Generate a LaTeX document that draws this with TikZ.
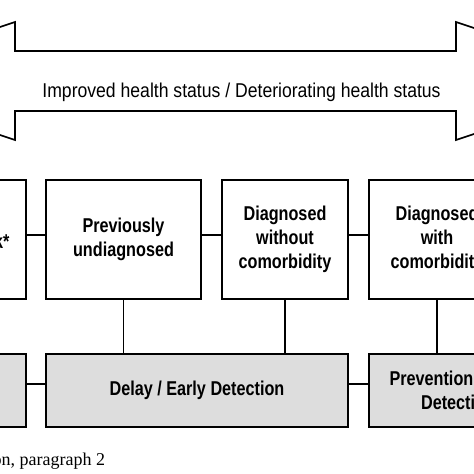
\documentclass[tikz,border=0pt]{standalone}
\usepackage{fontspec}
\setmainfont{Liberation Serif}
\newfontfamily\boxfont[FakeStretch=0.81]{Liberation Sans}
\newfontfamily\arrowfont[FakeStretch=0.88]{Liberation Sans}
\definecolor{boxgray}{RGB}{221,221,221}
\begin{document}
\begin{tikzpicture}[x=1pt, y=1pt, line width=1.7pt,
    stage/.style={draw, rectangle, align=center, inner sep=0pt,
      font=\boxfont\bfseries\fontsize{20}{24}\selectfont, minimum height=119pt},
    action/.style={stage, fill=boxgray, minimum height=73pt}]
  \useasboundingbox (0,0) rectangle (474,474);
  \clip (0,0) rectangle (474,474);

  % double arrow across the top
  \draw (-162,393) -- (15,452) -- (15,423) -- (456,423) -- (456,452)
        -- (633,393) -- (456,334) -- (456,363) -- (15,363) -- (15,334) -- cycle;
  \node[font=\arrowfont\fontsize{20}{24}\selectfont] (status) at (241.5,382)
        {Improved health status / Deteriorating health status};

  % stages
  \node[stage, minimum width=90pt] (risk) at (-19,234.5) {\raisebox{-18pt}{At risk*}};
  \node[stage, minimum width=155pt] (undiag) at (123.5,234.5) {Previously\\undiagnosed};
  \node[stage, minimum width=126pt] (nocomorb) at (285,234.5) {Diagnosed\\without\\comorbidity};
  \node[stage, minimum width=136pt] (comorb) at (437,234.5) {Diagnosed\\with\\comorbidity};

  % actions
  \node[action, minimum width=90pt] (left) at (-19,83.5) {};
  \node[action, minimum width=302pt] (delay) at (197,83.5) {Delay / Early Detection};
  \node[action, minimum width=178pt] (prevent) at (458,83.5) {Prevention / Early\\Detection};

  \draw ([yshift=4.5pt]risk.east) -- ([yshift=4.5pt]undiag.west);
  \draw ([yshift=4.5pt]undiag.east) -- ([yshift=4.5pt]nocomorb.west);
  \draw ([yshift=4.5pt]nocomorb.east) -- ([yshift=4.5pt]comorb.west);
  \draw ([yshift=6.5pt]left.east) -- ([yshift=6.5pt]delay.west);
  \draw ([yshift=6.5pt]delay.east) -- ([yshift=6.5pt]prevent.west);

  \draw (undiag.south) -- (undiag.south |- delay.north);
  \draw (nocomorb.south) -- (nocomorb.south |- delay.north);
  \draw (comorb.south) -- (comorb.south |- prevent.north);

  \node[anchor=base east, font=\fontsize{18}{20}\selectfont, inner sep=0pt] (note) at (106,9)
        {on, paragraph 2};
\end{tikzpicture}
\end{document}
